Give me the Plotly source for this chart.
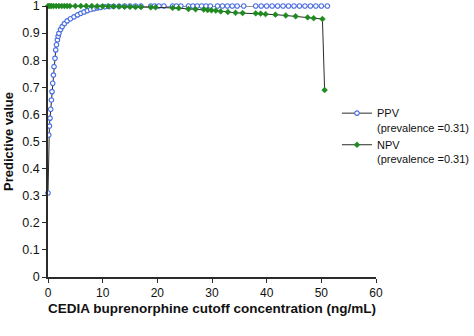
import plotly.graph_objects as go

# PPV vs cutoff (ng/mL)
ppv_x = [0, 0.13, 0.26, 0.37, 0.49, 0.62, 0.73, 0.86, 0.99, 1.1, 1.28, 1.41, 1.55,
         1.72, 1.86, 2.0, 2.3, 2.6, 3.0, 3.5, 4.1, 4.75, 5.4, 6.0, 6.6, 7.2, 7.8,
         8.4, 9.0, 9.6, 10.4, 11.2, 12.0, 13.0, 14.0, 15.0, 16.0, 17.0, 18.8,
         19.5, 20.3, 21.2, 22.8, 23.5, 24.3, 25.7, 26.5, 27.3, 28.1, 28.9, 29.7,
         31.0, 31.9, 32.8, 33.7, 34.6, 35.8, 38.0, 39.0, 40.0, 41.0, 42.0, 43.0,
         44.0, 45.0, 46.0, 47.0, 48.0, 49.0, 50.0, 51.1]
ppv_y = [0.31, 0.524, 0.557, 0.586, 0.619, 0.653, 0.684, 0.715, 0.745, 0.776, 0.807,
         0.838, 0.857, 0.875, 0.888, 0.899, 0.913, 0.924, 0.935, 0.945, 0.953,
         0.960, 0.967, 0.973, 0.978, 0.983, 0.987, 0.990, 0.993, 0.995, 0.997,
         0.998, 0.999, 0.999, 1.0, 1.0, 1.0, 1.0, 1.0, 1.0, 1.0, 1.0, 1.0, 1.0,
         1.0, 1.0, 1.0, 1.0, 1.0, 1.0, 1.0, 1.0, 1.0, 1.0, 1.0, 1.0, 1.0, 1.0,
         1.0, 1.0, 1.0, 1.0, 1.0, 1.0, 1.0, 1.0, 1.0, 1.0, 1.0, 1.0, 1.0]

# NPV vs cutoff (ng/mL)
npv_x = [0, 0.3, 0.6, 1.0, 1.5, 2.0, 2.5, 3.0, 3.5, 4.0, 5.0, 6.0, 7.0, 8.0, 9.0,
         10.0, 11.0, 12.0, 13.0, 14.0, 15.0, 16.0, 17.0, 18.8, 19.7, 22.8, 23.9,
         25.7, 27.0, 28.5, 29.2, 29.9, 30.7, 31.6, 32.9, 34.3, 35.6, 38.0, 38.9,
         39.8, 41.6, 43.5, 45.3, 47.5, 48.6, 50.2, 50.6]
npv_y = [1.0, 1.0, 1.0, 1.0, 1.0, 1.0, 1.0, 1.0, 1.0, 1.0, 1.0, 1.0, 1.0, 1.0, 0.999,
         0.999, 0.999, 0.998, 0.998, 0.997, 0.997, 0.996, 0.996, 0.995, 0.995,
         0.993, 0.992, 0.989, 0.988, 0.987, 0.985, 0.984, 0.983, 0.980, 0.978,
         0.975, 0.974, 0.973, 0.972, 0.970, 0.968, 0.965, 0.962, 0.958, 0.955,
         0.952, 0.69]

y_ticks = [0, 0.1, 0.2, 0.3, 0.4, 0.5, 0.6, 0.7, 0.8, 0.9, 1]
y_tick_text = ["0", "0.1", "0.2", "0.3", "0.4", "0.5", "0.6", "0.7", "0.8", "0.9", "1"]
x_ticks = [0, 10, 20, 30, 40, 50, 60]

FONT = "Liberation Sans, Arial, sans-serif"
LINE = "#2b2b2b"
TEXT = "#111111"

fig = go.Figure()
fig.add_trace(go.Scatter(
    x=ppv_x, y=ppv_y, mode="lines+markers",
    name="PPV<br>(prevalence =0.31)",
    line=dict(color=LINE, width=1),
    marker=dict(symbol="circle", size=4.5, color="white",
                line=dict(color="#4a6ee0", width=1.2)),
    cliponaxis=False,
))
fig.add_trace(go.Scatter(
    x=npv_x, y=npv_y, mode="lines+markers",
    name="NPV<br>(prevalence =0.31)",
    line=dict(color=LINE, width=1),
    marker=dict(symbol="diamond", size=4.5, color="#1f8a1f",
                line=dict(color="#1f8a1f", width=0.5)),
    cliponaxis=False,
))

fig.update_layout(
    width=474, height=336,
    margin=dict(l=48, r=98, t=6, b=59, autoexpand=False),
    paper_bgcolor="white", plot_bgcolor="white",
    font=dict(family=FONT, color=TEXT, size=12),
    showlegend=True,
    legend=dict(
        x=0.881, y=0.655, xanchor="left", yanchor="top",
        font=dict(family=FONT, size=11, color=TEXT),
        bgcolor="rgba(0,0,0,0)", borderwidth=0, valign="top",
    ),
)
fig.update_xaxes(
    range=[0, 60], tickvals=x_ticks, showgrid=False, zeroline=False,
    showline=True, linecolor=LINE, linewidth=1.5, automargin=False,
    ticks="outside", ticklen=4, tickcolor=LINE, tickwidth=1,
    tickfont=dict(size=12), ticklabeloverflow="allow",
    title=dict(text="<b>CEDIA buprenorphine cutoff concentration (ng/mL)</b>",
               font=dict(size=13.5), standoff=4),
)
fig.update_yaxes(
    range=[0, 1], tickvals=y_ticks, ticktext=y_tick_text, showgrid=False,
    zeroline=False, showline=True, linecolor=LINE, linewidth=1.5, automargin=False,
    ticks="outside", ticklen=4, tickcolor=LINE, tickwidth=1,
    tickfont=dict(size=12.5), ticklabeloverflow="allow",
    title=dict(text="<b>Predictive value</b>", font=dict(size=13), standoff=6),
)

fig.write_html("out.html")
